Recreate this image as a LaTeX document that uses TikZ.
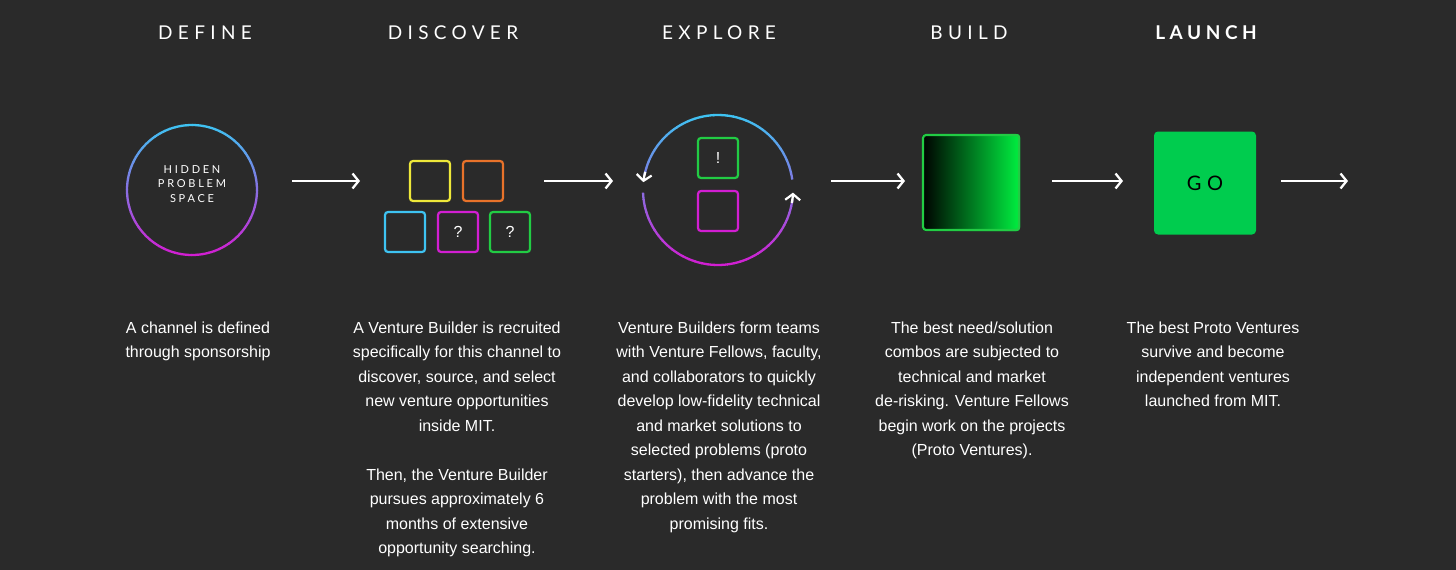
\documentclass[tikz,border=0pt]{standalone}
\usepackage{fontspec}
\setmainfont{Liberation Sans}
\newfontfamily\titlefont[LetterSpace=28]{Lato}
\newfontfamily\titlebold[LetterSpace=24]{Lato Bold}
\newfontfamily\smallcaps[LetterSpace=25]{Lato}
\usetikzlibrary{arrows.meta}
\definecolor{bg}{HTML}{2A2A2A}
\definecolor{cyanc}{HTML}{3EC3F2}
\definecolor{magc}{HTML}{D21ED2}
\definecolor{yel}{HTML}{EEE83A}
\definecolor{ora}{HTML}{E8722A}
\definecolor{grn}{HTML}{22CC44}
\definecolor{gofill}{HTML}{00CC4E}
\definecolor{brt}{HTML}{00F040}
\tikzset{
 sq/.style={draw, line width=2.2pt, rounded corners=3pt, minimum width=40pt, minimum height=40pt, inner sep=0pt, text=white, font=\fontsize{16}{16}\selectfont},
 flow/.style={draw=white, line width=2.3pt, -{Straight Barb[length=6pt,width=15pt,line width=2.3pt]}},
 cyc/.style={line width=2.3pt, white, -{Straight Barb[length=6pt,width=15pt,line width=2.2pt]}},
 title/.style={text=white, font=\titlefont\fontsize{19}{19}\selectfont},
 body/.style={text=white, align=center, font=\fontsize{16}{24.5}\selectfont, anchor=north}
}
\begin{document}
\begin{tikzpicture}[x=1pt,y=-1pt]
\fill[bg] (0,0) rectangle (1456,570);
\useasboundingbox (0,0) rectangle (1456,570);
\node[title] (t1) at (205,33) {DEFINE};
\node[title] (t2) at (453,33) {DISCOVER};
\node[title] (t3) at (719,33) {EXPLORE};
\node[title] (t4) at (969,33) {BUILD};
\node[title, font=\titlebold\fontsize{19}{19}\selectfont] (t5) at (1206,33) {LAUNCH};
\foreach \a in {0,5,...,355}{
  \pgfmathsetmacro\t{100*(1+sin(\a+2.5))/2}
  \draw[line width=2.3pt, color=magc!\t!cyanc] (192,190) ++(\a:65) arc[start angle=\a, end angle=\a+5.5, radius=65];
}
\node[text=white, align=center, font=\smallcaps\fontsize{11}{14.5}\selectfont] (c1) at (192,184) {HIDDEN\\PROBLEM\\SPACE};
\node[sq, draw=yel] (d1) at (430,181) {};
\node[sq, draw=ora] (d2) at (483,181) {};
\node[sq, draw=cyanc] (d3) at (405,232) {};
\node[sq, draw=magc] (d4) at (458,232) {?};
\node[sq, draw=grn] (d5) at (510,232) {?};
\foreach \a in {352,347,...,197}{
  \pgfmathsetmacro\t{100*(1+sin(\a-2.5))/2}
  \draw[line width=2.3pt, color=magc!\t!cyanc] (718,190) ++(\a:75) arc[start angle=\a, end angle=\a-5.5, radius=75];
}
\draw[cyc] (718,190) ++(194:75) arc[start angle=194, end angle=186, radius=75];
\foreach \a in {178,173,...,13}{
  \pgfmathsetmacro\t{100*(1+sin(\a-2.5))/2}
  \draw[line width=2.3pt, color=magc!\t!cyanc] (718,190) ++(\a:75) arc[start angle=\a, end angle=\a-5.5, radius=75];
}
\draw[cyc] (718,190) ++(10:75) arc[start angle=10, end angle=2, radius=75];
\node[sq, draw=grn] (e1) at (718,158) {!};
\node[sq, draw=magc] (e2) at (718,211) {};
\shade[left color=black, right color=brt, rounded corners=3pt] (922,134) rectangle (1020,231);
\node[draw=grn, line width=2.2pt, rounded corners=3pt, minimum width=96pt, minimum height=95pt] (b1) at (971,182.5) {};
\node[fill=gofill, rounded corners=4pt, minimum width=102pt, minimum height=103pt, font=\titlefont\fontsize{20}{20}\selectfont, text=black] (l1) at (1205,183) {GO};
\coordinate (end) at (1348,181);
\draw[flow] (292,181) -- (360,181);
\draw[flow] (544,181) -- (613,181);
\draw[flow] (831,181) -- (905,181);
\draw[flow] (1052,181) -- (1123,181);
\draw[flow] (1281,181) -- (end);
\node[body] (x1) at (198,318) {A channel is defined\\through sponsorship};
\node[body] (x2) at (457,318) {A Venture Builder is recruited\\specifically for this channel to\\discover, source, and select\\new venture opportunities\\inside MIT.\\[24.5pt]Then, the Venture Builder\\pursues approximately 6\\months of extensive\\opportunity searching.};
\node[body] (x3) at (719,318) {Venture Builders form teams\\with Venture Fellows, faculty,\\and collaborators to quickly\\develop low-fidelity technical\\and market solutions to\\selected problems (proto\\starters), then advance the\\problem with the most\\promising fits.};
\node[body] (x4) at (972,318) {The best need/solution\\combos are subjected to\\technical and market\\de-risking. Venture Fellows\\begin work on the projects\\(Proto Ventures).};
\node[body] (x5) at (1213,318) {The best Proto Ventures\\survive and become\\independent ventures\\launched from MIT.};
\end{tikzpicture}
\end{document}
